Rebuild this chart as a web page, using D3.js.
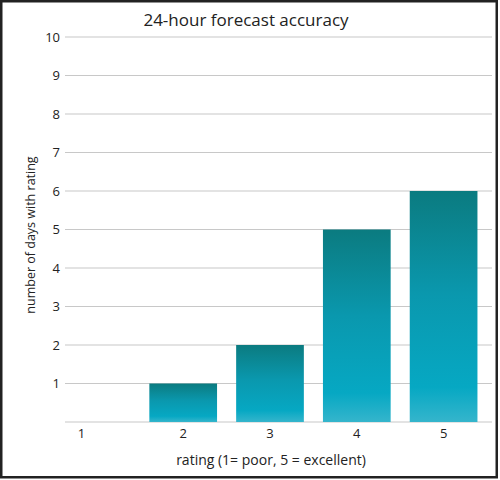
<!DOCTYPE html>
<html>
<head>
<meta charset="utf-8">
<script src="https://cdn.jsdelivr.net/npm/d3@7"></script>
<style>
  body { margin: 0; background: #fff; }
  svg text { font-family: "Open Sans", "Noto Sans", sans-serif; fill: #222; }
</style>
</head>
<body>
<div id="chart"></div>
<script>
// data
const ratings = ["1", "2", "3", "4", "5"];
const days = [0, 1, 2, 5, 6];
const yTicks = [1, 2, 3, 4, 5, 6, 7, 8, 9, 10];

const width = 500;
const height = 480;

const svg = d3.select("#chart")
    .append("svg")
    .attr("width", width)
    .attr("height", height);

// frame
svg.append("rect")
    .attr("x", 1.25).attr("y", 1.25)
    .attr("width", 495.5).attr("height", 476)
    .attr("fill", "none")
    .attr("stroke", "#222")
    .attr("stroke-width", 2.5);

const grad = svg.append("defs").append("linearGradient")
    .attr("id", "barGrad")
    .attr("x1", 0).attr("y1", 0).attr("x2", 0).attr("y2", 1);
grad.append("stop").attr("offset", "0%").attr("stop-color", "#0b7b80");
grad.append("stop").attr("offset", "45%").attr("stop-color", "#0a98ae");
grad.append("stop").attr("offset", "85%").attr("stop-color", "#06a8c3");
grad.append("stop").attr("offset", "100%").attr("stop-color", "#35b5cc");

const x = d3.scaleBand()
    .domain(ratings)
    .range([53, 487])
    .paddingInner(0.22)
    .paddingOuter(0.11);

const y = d3.scaleLinear()
    .domain([0, 10])
    .range([422, 37]);

// gridlines (including baseline)
svg.append("g")
    .selectAll("line")
    .data([0].concat(yTicks))
    .enter()
    .append("line")
    .attr("x1", 65).attr("x2", 492)
    .attr("y1", d => y(d)).attr("y2", d => y(d))
    .attr("stroke", "#c8c8c8")
    .attr("stroke-width", 1.2);

// y axis labels
svg.append("g")
    .attr("transform", "translate(60,0)")
    .call(d3.axisLeft(y).tickValues(yTicks).tickSize(0).tickPadding(0))
    .call(g => g.select(".domain").remove())
    .selectAll("text")
    .style("font-size", "13px")
    .attr("fill", "#222");

// x axis labels
svg.append("g")
    .attr("transform", "translate(0,429)")
    .call(d3.axisBottom(x).tickSize(0).tickPadding(0))
    .call(g => g.select(".domain").remove())
    .selectAll("text")
    .style("font-size", "13px")
    .attr("fill", "#222")
    .attr("dx", d => d === "1" ? -15 : 0);

svg.selectAll(".bar")
    .data(days.map((d, i) => ({ rating: ratings[i], value: d })).filter(d => d.value > 0))
    .enter()
    .append("rect")
    .attr("class", "bar")
    .attr("x", d => x(d.rating))
    .attr("y", d => y(d.value))
    .attr("width", x.bandwidth())
    .attr("height", d => y(0) - y(d.value))
    .attr("fill", "url(#barGrad)");

svg.append("text")
    .attr("x", 246).attr("y", 26)
    .attr("text-anchor", "middle")
    .style("font-size", "17px")
    .text("24-hour forecast accuracy");

svg.append("text")
    .attr("x", 271).attr("y", 465)
    .attr("text-anchor", "middle")
    .style("font-size", "14px")
    .text("rating (1= poor, 5 = excellent)");

svg.append("text")
    .attr("transform", "translate(35,235) rotate(-90)")
    .attr("text-anchor", "middle")
    .style("font-size", "12.5px")
    .text("number of days with rating");
</script>
</body>
</html>
